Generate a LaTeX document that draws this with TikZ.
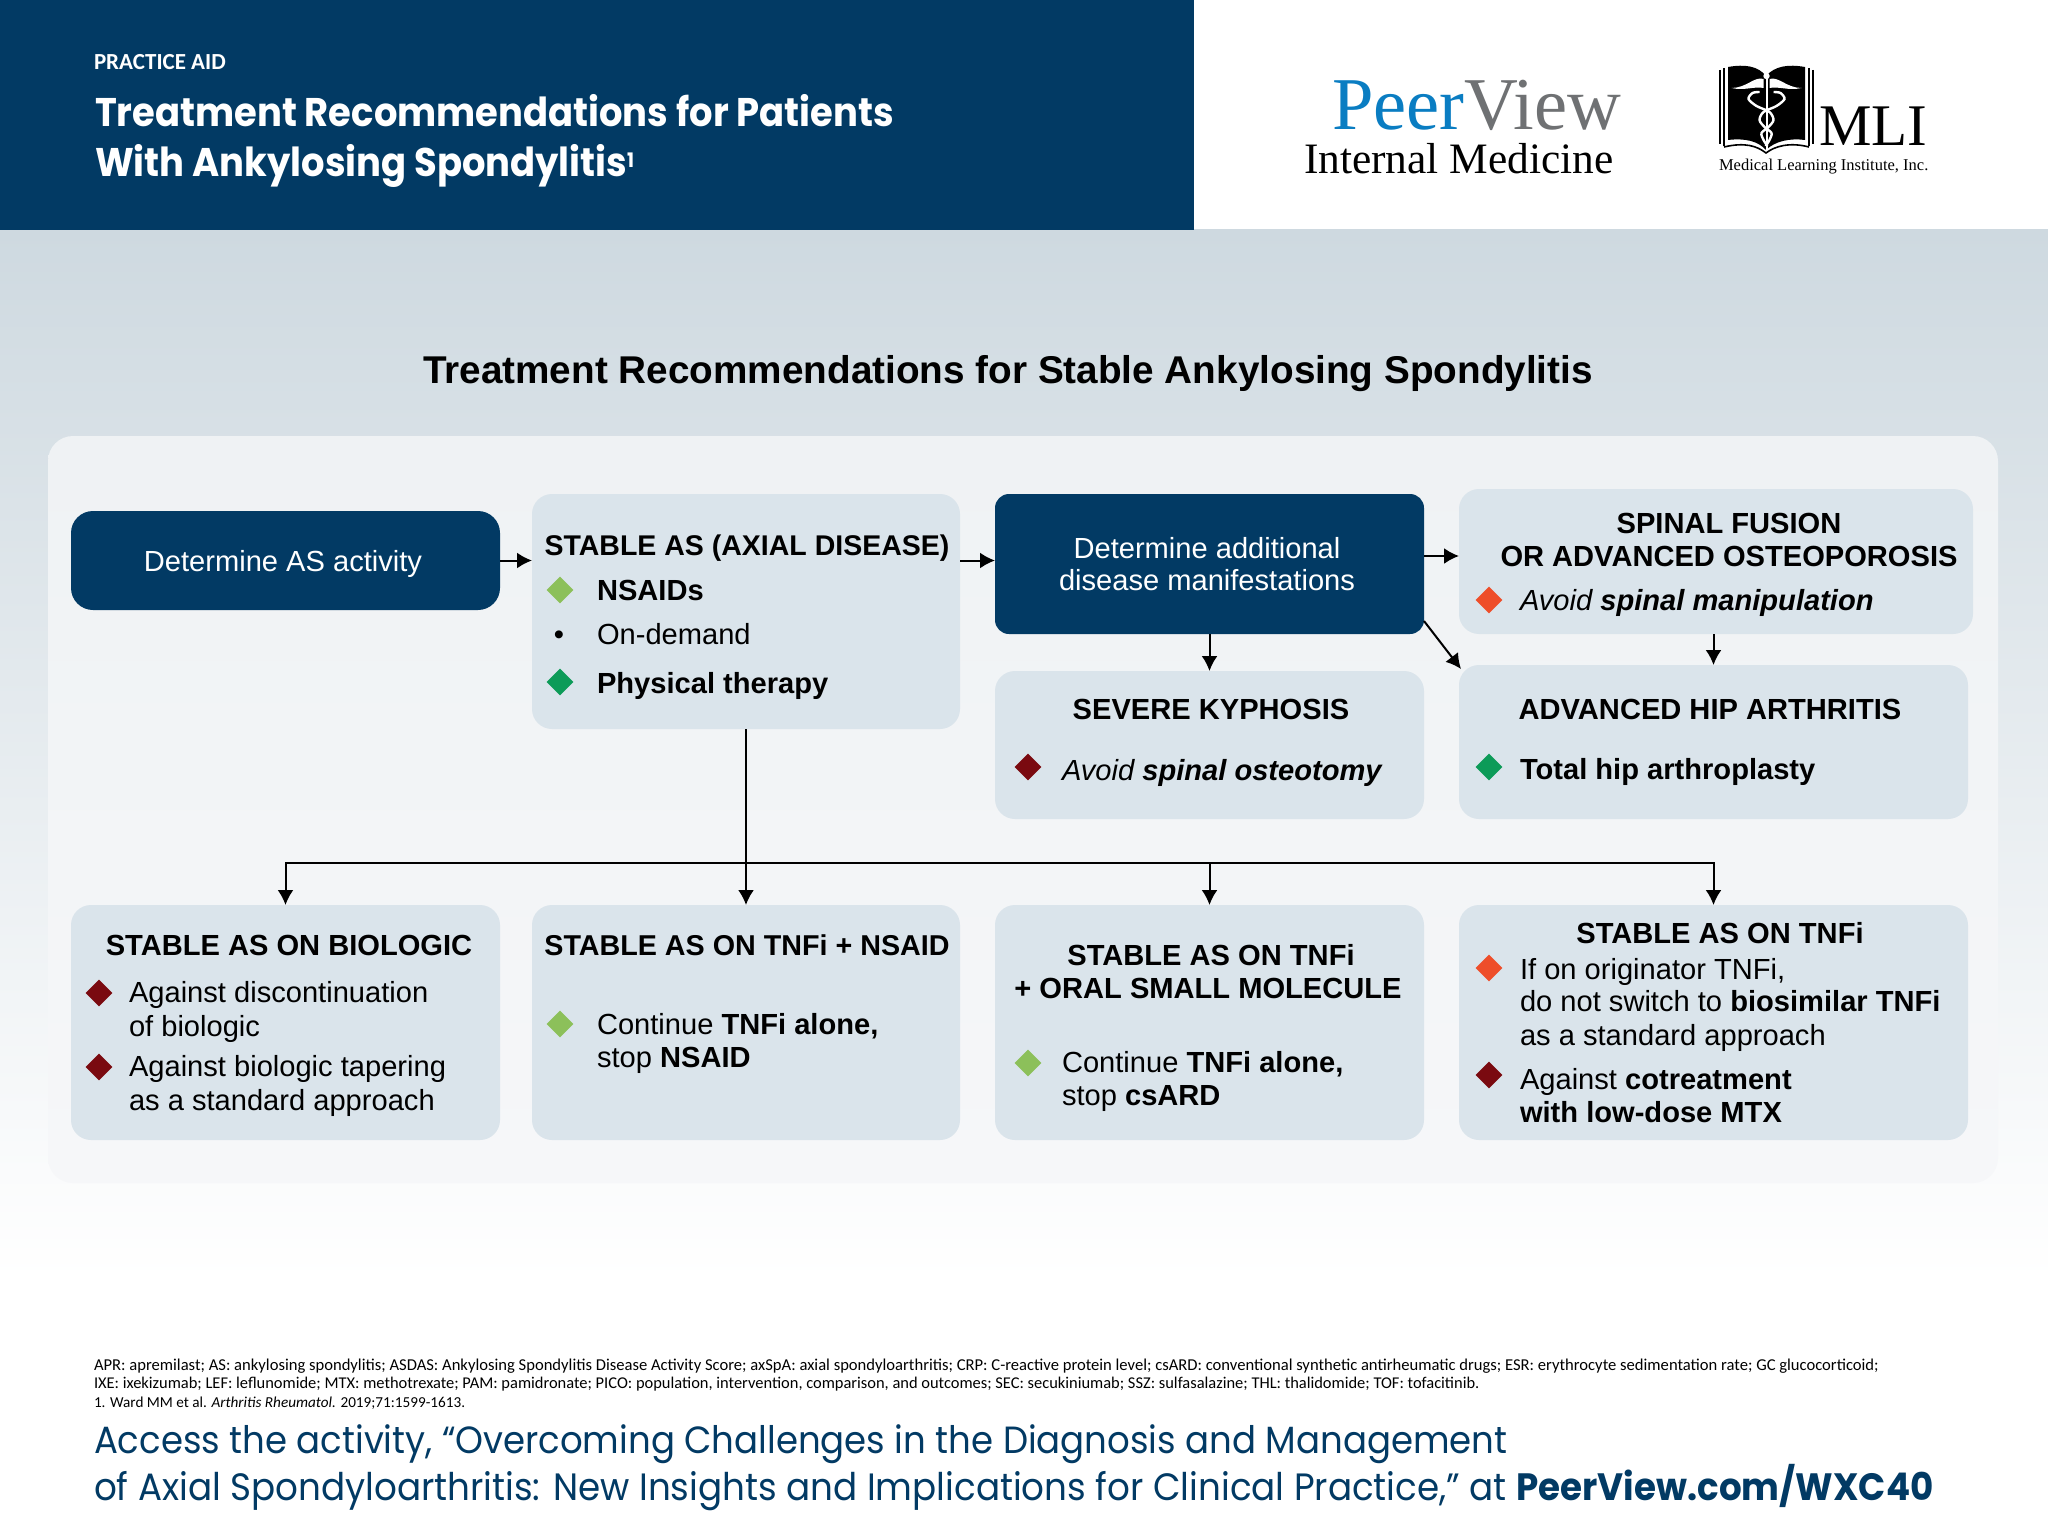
\documentclass[tikz,border=0pt]{standalone}
\usepackage{fontspec}
\setmainfont{Liberation Sans}
\newfontfamily\displayfont[FakeStretch=0.923]{Poppins}
\newfontfamily\footfont[FakeStretch=0.937]{Poppins}
\newfontfamily\notefont{Carlito}
\newfontfamily\logofont{Liberation Serif}
\usetikzlibrary{arrows.meta,shapes.geometric}
\definecolor{navy}{HTML}{023A64}
\definecolor{cellfill}{HTML}{DAE4EB}
\definecolor{lightgreen}{HTML}{8CC05A}
\definecolor{deepgreen}{HTML}{0C9B58}
\definecolor{darkred}{HTML}{7A0A10}
\definecolor{redorange}{HTML}{EE4E2A}
\definecolor{peerblue}{HTML}{0A7DC2}
\definecolor{peergrey}{HTML}{6F7173}
\newcommand*{\Sz}[1]{\fontsize{#1}{#1}\selectfont}
\tikzset{
  softcell/.style={fill=cellfill, rounded corners=20pt, inner sep=0pt, outer sep=0pt},
  darkcell/.style={fill=navy, rounded corners=14pt, inner sep=0pt, outer sep=0pt},
  flowline/.style={line width=2pt, -{Latex[length=15pt,width=16pt]}},
  gem/.style={diamond, aspect=1, minimum size=27pt, inner sep=0pt},
  plain/.style={inner sep=0pt, outer sep=0pt, font=\Sz{29.1}},
}
\newcommand*{\Cells}[1]{% #1 = list of name/x1/y1/x2/y2
  \foreach \name/\xa/\ya/\xb/\yb in {#1} {
    \node [softcell, minimum width={\xb-\xa}, minimum height={\yb-\ya}]
      (\name) at ({(\xa+\xb)/2},{(\ya+\yb)/2}) {};
    }%
}
\newcommand*{\Gems}[1]{% #1 = list of x/y/colour
  \foreach \x/\y/\tint [count=\i] in {#1} {
    \node [gem, fill=\tint] (gem\i) at (\x,\y) {};
    }%
}
\newcommand*{\Words}[3]{% #1 = name prefix, #2 = anchor, #3 = list of x/y/text
  \foreach \x/\y/\text [count=\i] in {#3} {
    \node [plain, anchor=#2] (#1\i) at (\x,\y) {\text};
    }%
}

\begin{document}
\begin{tikzpicture}[x=1pt,y=-1pt]
    \useasboundingbox (0,0) rectangle (2048,1530);

    % page and header
    \fill [white] (0,0) rectangle (2048,1530);
    \shade [top color={rgb,255:red,206;green,217;blue,224}, bottom color=white] (0,230) rectangle (2048,1280);
    \fill [navy] (0,0) rectangle (1194,230);
    \shade [top color={rgb,255:red,239;green,242;blue,244}, bottom color={rgb,255:red,246;green,247;blue,249}, rounded corners=25pt]
      (48,436) rectangle (1998,1183);

    \node [plain, anchor=base west, text=white, font=\notefont\bfseries\Sz{23}] (kicker) at (94,70) {PRACTICE AID};
    \node [plain, anchor=base west, text=white, font=\displayfont\bfseries\Sz{40}] (headone) at (95,126.5) {Treatment Recommendations for Patients};
    \node [plain, anchor=base west, text=white, font=\displayfont\bfseries\Sz{40}] (headtwo) at (95,176.5) {With Ankylosing Spondylitis\textsuperscript{\Sz{20}1}};

    % logos
    \node [plain, anchor=base west, font=\logofont\Sz{74.5}] (peerview) at (1332,130) {\textcolor{peerblue}{Peer}\textcolor{peergrey}{View}};
    \node [plain, anchor=base west, font=\logofont\Sz{43.4}] (internal) at (1304,174) {Internal Medicine};
    \node [plain, anchor=base west, font=\logofont\Sz{59}] (mli) at (1819,146) {MLI};
    \node [plain, anchor=base west, font=\logofont\Sz{16.5}] (mlifull) at (1719,171) {Medical Learning Institute, Inc.};
    \draw [line width=1.2pt] (1720,70) -- (1720,144) (1724,68) -- (1724,146) (1809,68) -- (1809,146) (1813,70) -- (1813,144);
    \fill (1728,67) .. controls (1745,64) and (1758,66) .. (1766,76)
       .. controls (1775,66) and (1788,64) .. (1805,67) -- (1805,140)
       .. controls (1790,138) and (1775,141) .. (1766,150)
       .. controls (1758,141) and (1745,138) .. (1728,140) -- cycle;
    \draw [line width=1.6pt] (1724,147) .. controls (1745,142) and (1757,146) .. (1766,153)
       .. controls (1775,146) and (1790,142) .. (1809,147);
    \fill [white] (1766.5,76) circle (3.2pt);
    \draw [white, line width=2pt] (1766.5,76) -- (1766.5,150);
    \foreach \s in {1,-1} {
      \begin{scope}[shift={(1766.5,0)},xscale=\s]
        \fill [white] (-35,88) .. controls (-20,88) and (-12,76) .. (-3,79) -- (-3,88) .. controls (-12,86) and (-22,91) .. cycle;
        \draw [white, line width=2.4pt] plot [smooth] coordinates {(-7,92) (-14,93) (-18,99) (-10,106) (3,112) (7,120) (2,127) (-5,133) (-3,140) (1,146)};
      \end{scope}
    }

    \node [plain, anchor=base, font=\bfseries\Sz{38.7}] (maintitle) at (1008,383) {Treatment Recommendations for Stable Ankylosing Spondylitis};

    % boxes
    \node [darkcell, rounded corners=22pt, minimum width=429pt, minimum height=99pt] (askbox) at (285.5,560.5) {};
    \node [darkcell, minimum width=429pt, minimum height=140pt] (dadd) at (1209.5,564) {};
    \Cells{
      stable/532/494/960/729,
      spinal/1459/489/1973/634,
      kyphosis/995/671/1424/819,
      hip/1459/665/1968/819,
      onbiologic/71/905/500/1140,
      onnsaid/532/905/960/1140,
      onsmall/995/905/1424/1140,
      ontnfi/1459/905/1968/1140%
    }

    % connectors
    \coordinate (bus) at (746,863);
    \coordinate (spinalin) at (1459,556);
    \coordinate (hipout) at (1424,621);
    \coordinate (hipin) at (1461,669);
    \draw [flowline] (askbox.east) -- (stable.west |- askbox.east);
    \draw [flowline] (stable.east |- askbox.east) -- (dadd.west |- askbox.east);
    \draw [flowline] (dadd.east |- spinalin) -- (spinalin);
    \draw [flowline] (dadd.south) -- (kyphosis.north);
    \draw [flowline] (hip.north |- spinal.south) -- (hip.north);
    \draw [flowline] (hipout) -- (hipin);
    \draw [flowline] (stable.south) -- (onnsaid.north);
    \draw [flowline] (bus) -| (onbiologic.north);
    \draw [flowline] (bus) -| (onsmall.north);
    \draw [flowline] (bus) -| (ontnfi.north);

    \Gems{
      560/590/lightgreen,
      560/682/deepgreen,
      1489/600/redorange,
      1028/767/darkred,
      1489/767/deepgreen,
      99/993/darkred,
      99/1067/darkred,
      560/1024/lightgreen,
      1028/1063/lightgreen,
      1489/968/redorange,
      1489/1075/darkred%
    }

    % headings, centred
    \Words{mid}{base}{
      283/571/{\textcolor{white}{Determine AS activity}},
      1207/558/{\textcolor{white}{Determine additional}},
      1207/590/{\textcolor{white}{disease manifestations}},
      747/555/{\Sz{28.5}\textbf{STABLE AS (AXIAL DISEASE)}},
      1729/533/{\textbf{SPINAL FUSION}},
      1729/566/{\textbf{OR ADVANCED OSTEOPOROSIS}},
      1211/719/{\textbf{SEVERE KYPHOSIS}},
      1710/719/{\textbf{ADVANCED HIP ARTHRITIS}},
      289/955/{\textbf{STABLE AS ON BIOLOGIC}},
      747/955/{\Sz{28.7}\textbf{STABLE AS ON TNFi + NSAID}},
      1211/965/{\textbf{STABLE AS ON TNFi}},
      1208/998/{\textbf{+ ORAL SMALL MOLECULE}},
      1720/943/{\textbf{STABLE AS ON TNFi}},
      559/644/{\textbullet}%
    }

    % item lines
    \Words{item}{base west}{
      597/600/{\textbf{NSAIDs}},
      597/644/{On-demand},
      597/693/{\textbf{Physical therapy}},
      1520/610/{\textit{Avoid \textbf{spinal manipulation}}},
      1062/780/{\textit{Avoid \textbf{spinal osteotomy}}},
      1520/779/{\textbf{Total hip arthroplasty}},
      129/1002/{Against discontinuation},
      129/1036/{of biologic},
      129/1076/{Against biologic tapering},
      129/1110/{as a standard approach},
      597/1034/{Continue \textbf{TNFi alone,}},
      597/1067/{stop \textbf{NSAID}},
      1062/1072/{Continue \textbf{TNFi alone,}},
      1062/1105/{stop \textbf{csARD}},
      1520/979/{If on originator TNFi,},
      1520/1011/{do not switch to \textbf{biosimilar TNFi}},
      1520/1045/{as a standard approach},
      1520/1089/{Against \textbf{cotreatment}},
      1520/1122/{\textbf{with low-dose MTX}}%
    }

    % footer
    \node [plain, anchor=base west, font=\notefont\Sz{16.6}] (noteone) at (94,1370) {APR: apremilast; AS: ankylosing spondylitis; ASDAS: Ankylosing Spondylitis Disease Activity Score; axSpA: axial spondyloarthritis; CRP: C-reactive protein level; csARD: conventional synthetic antirheumatic drugs; ESR: erythrocyte sedimentation rate; GC glucocorticoid;};
    \node [plain, anchor=base west, font=\notefont\Sz{16.45}] (notetwo) at (94,1388.5) {IXE: ixekizumab; LEF: leflunomide; MTX: methotrexate; PAM: pamidronate; PICO: population, intervention, comparison, and outcomes; SEC: secukiniumab; SSZ: sulfasalazine; THL: thalidomide; TOF: tofacitinib.};
    \node [plain, anchor=base west, font=\notefont\Sz{15.2}] (notethree) at (94,1407) {1. Ward MM et al. \textit{Arthritis Rheumatol.} 2019;71:1599-1613.};
    \node [plain, anchor=base west, text=navy, font=\footfont\Sz{37.9}] (accessone) at (94,1453) {Access the activity, “Overcoming Challenges in the Diagnosis and Management};
    \node [plain, anchor=base west, text=navy, font=\footfont\Sz{38.1}] (accesstwo) at (94,1500) {of Axial Spondyloarthritis: New Insights and Implications for Clinical Practice,” at \textbf{PeerView.com/WXC40}};
\end{tikzpicture}
\end{document}
